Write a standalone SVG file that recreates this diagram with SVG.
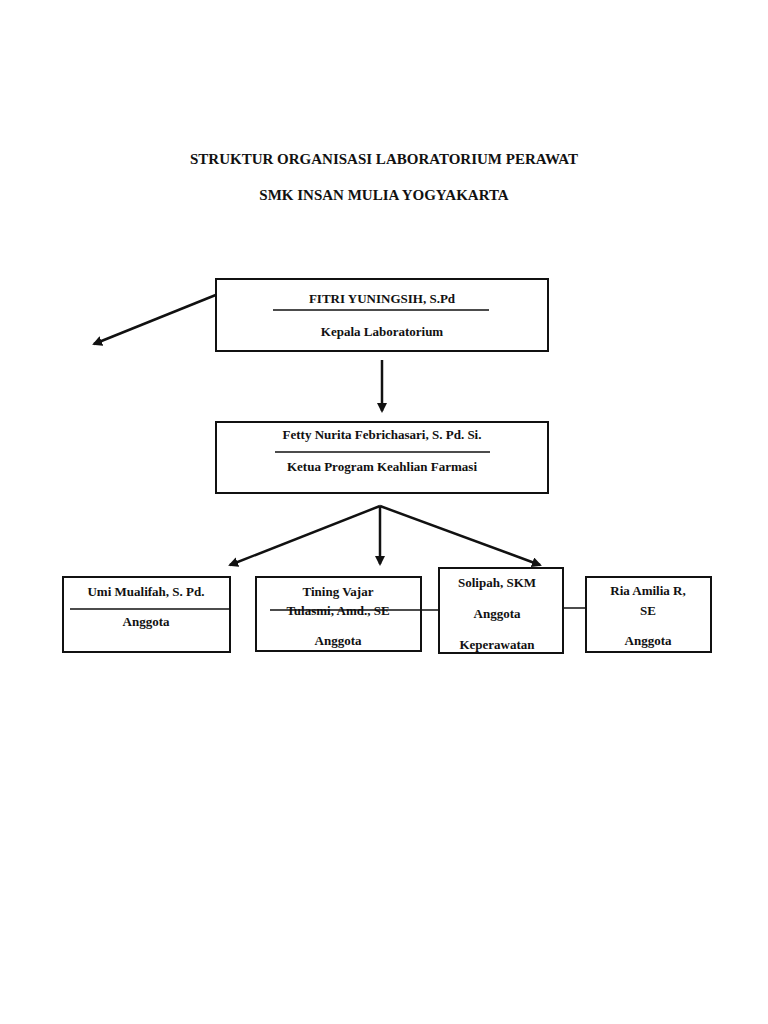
<svg xmlns="http://www.w3.org/2000/svg" width="768" height="1024" viewBox="0 0 768 1024">
<defs>
<style>
text{font-family:"Liberation Serif",serif;font-weight:bold;font-size:13px;fill:#111;text-anchor:middle}
.t{font-size:15px}
.b{fill:#fff;stroke:#111;stroke-width:2}
.l{stroke:#111;stroke-width:1.5;fill:none}
.a{stroke:#111;stroke-width:2.5;fill:none;marker-end:url(#ah)}
</style>
<marker id="ah" viewBox="0 0 10 10" refX="8" refY="5" markerWidth="4" markerHeight="4" orient="auto"><path d="M0,0L10,5L0,10z" fill="#111"/></marker>
</defs>
<rect width="768" height="1024" fill="#fff"/>
<text class="t" x="384" y="164">STRUKTUR ORGANISASI LABORATORIUM PERAWAT</text>
<text class="t" x="384" y="200">SMK INSAN MULIA YOGYAKARTA</text>
<g id="connectors">
<line class="a" x1="243" y1="284" x2="94" y2="344"/>
<line class="a" x1="382" y1="360" x2="382" y2="411"/>
<line class="a" x1="380" y1="506" x2="230" y2="565"/>
<line class="a" x1="380" y1="506" x2="380" y2="564"/>
<line class="a" x1="380" y1="506" x2="540" y2="565"/>
<line class="l" x1="270" y1="610" x2="440" y2="610"/>
<line class="l" x1="563" y1="608" x2="586" y2="608"/>
</g>
<g id="n1"><rect class="b" x="216" y="279" width="332" height="72"/>
<text x="382" y="303">FITRI YUNINGSIH, S.Pd</text><line class="l" x1="273" y1="310" x2="489" y2="310"/>
<text x="382" y="336">Kepala Laboratorium</text></g>
<g id="n2"><rect class="b" x="216" y="422" width="332" height="71"/>
<text x="382" y="439">Fetty Nurita Febrichasari, S. Pd. Si.</text><line class="l" x1="275" y1="452" x2="490" y2="452"/>
<text x="382" y="471">Ketua Program Keahlian Farmasi</text></g>
<g id="n3"><rect class="b" x="63" y="577" width="167" height="75"/>
<text x="146" y="596">Umi Mualifah, S. Pd.</text><line class="l" x1="70" y1="609" x2="230" y2="609"/>
<text x="146" y="626">Anggota</text></g>
<g id="n4"><rect class="b" x="256" y="577" width="165" height="74"/>
<text x="338" y="596">Tining Vajar</text><text x="338" y="615">Tulasmi, Amd., SE</text>
<text x="338" y="645">Anggota</text></g>
<line class="l" x1="270" y1="610" x2="421" y2="610"/>
<g id="n5"><rect class="b" x="439" y="568" width="124" height="85"/>
<text x="497" y="587">Solipah, SKM</text><text x="497" y="618">Anggota</text><text x="497" y="649">Keperawatan</text></g>
<g id="n6"><rect class="b" x="586" y="577" width="125" height="75"/>
<text x="648" y="595">Ria Amilia R,</text><text x="648" y="615">SE</text><text x="648" y="645">Anggota</text></g>
</svg>
